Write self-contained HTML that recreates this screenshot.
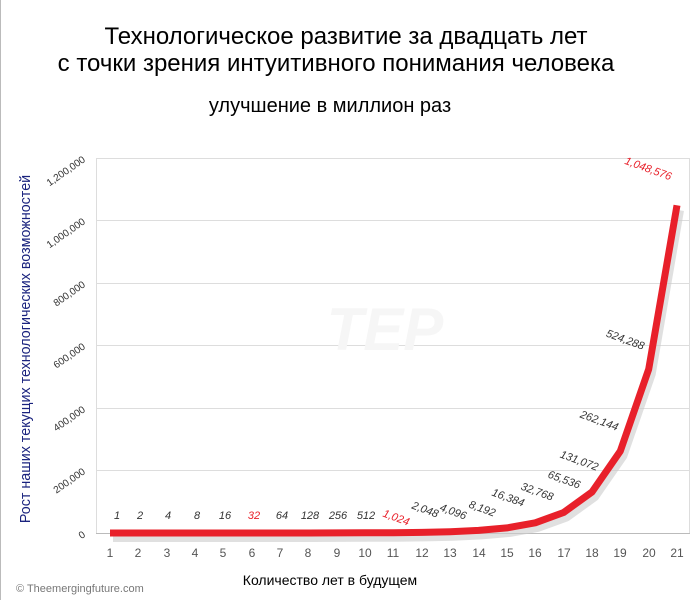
<!DOCTYPE html>
<html><head><meta charset="utf-8"><style>
body{margin:0;background:#fff;}
svg{display:block;font-family:"Liberation Sans","DejaVu Sans",sans-serif;}
</style></head><body>
<svg width="693" height="600" viewBox="0 0 693 600" xmlns="http://www.w3.org/2000/svg">
<rect x="0" y="0" width="693" height="600" fill="#fff"/>
<line x1="0.5" y1="0" x2="0.5" y2="600" stroke="#bbb"/>
<text x="346" y="44" font-size="24" text-anchor="middle" fill="#000">Технологическое развитие за двадцать лет</text>
<text x="336" y="71" font-size="24" text-anchor="middle" fill="#000">с точки зрения интуитивного понимания человека</text>
<text x="330" y="112" font-size="20" text-anchor="middle" fill="#000">улучшение в миллион раз</text>
<g stroke="#ddd" stroke-width="1">
<line x1="96" y1="158.5" x2="690" y2="158.5"/>
<line x1="96" y1="220.5" x2="690" y2="220.5"/>
<line x1="96" y1="283.5" x2="690" y2="283.5"/>
<line x1="96" y1="345.5" x2="690" y2="345.5"/>
<line x1="96" y1="408.5" x2="690" y2="408.5"/>
<line x1="96" y1="470.5" x2="690" y2="470.5"/>
<line x1="96.5" y1="158" x2="96.5" y2="533"/>
<line x1="689.5" y1="158" x2="689.5" y2="533"/>
</g>
<line x1="96" y1="533.5" x2="690" y2="533.5" stroke="#bbb"/>
<text x="385" y="350" font-size="60" font-style="italic" font-weight="bold" fill="#f6f6f6" text-anchor="middle">TEP</text>
<g font-size="10" fill="#333" text-anchor="end">
<text transform="translate(86,161) rotate(-35)">1,200,000</text>
<text transform="translate(86,223) rotate(-35)">1,000,000</text>
<text transform="translate(86,286) rotate(-35)">800,000</text>
<text transform="translate(86,348) rotate(-35)">600,000</text>
<text transform="translate(86,411) rotate(-35)">400,000</text>
<text transform="translate(86,473) rotate(-35)">200,000</text>
<text transform="translate(86,536) rotate(-35)">0</text>
</g>
<text transform="translate(30,349) rotate(-90)" font-size="14.3" fill="#1a237e" text-anchor="middle">Рост наших текущих технологических возможностей</text>
<polyline fill="none" stroke="#ccc" stroke-opacity="0.6" stroke-width="8" stroke-linejoin="round" transform="translate(3,5)" points="110.0,533.0 138.4,533.0 166.7,533.0 195.1,533.0 223.4,533.0 251.8,533.0 280.1,533.0 308.5,533.0 336.8,532.9 365.2,532.8 393.5,532.7 421.9,532.4 450.2,531.7 478.6,530.4 506.9,527.9 535.3,522.8 563.6,512.5 592.0,492.0 620.3,451.1 648.7,369.2 677.0,205.3"/>
<polyline fill="none" stroke="#e8202a" stroke-width="7" stroke-linejoin="round" points="110.0,533.0 138.4,533.0 166.7,533.0 195.1,533.0 223.4,533.0 251.8,533.0 280.1,533.0 308.5,533.0 336.8,532.9 365.2,532.8 393.5,532.7 421.9,532.4 450.2,531.7 478.6,530.4 506.9,527.9 535.3,522.8 563.6,512.5 592.0,492.0 620.3,451.1 648.7,369.2 677.0,205.3"/>
<g font-size="12" fill="#555" text-anchor="middle">
<text x="110" y="557">1</text><text x="138" y="557">2</text><text x="167" y="557">3</text><text x="195" y="557">4</text><text x="223" y="557">5</text><text x="252" y="557">6</text><text x="280" y="557">7</text><text x="308" y="557">8</text><text x="337" y="557">9</text><text x="365" y="557">10</text><text x="393" y="557">11</text><text x="422" y="557">12</text><text x="450" y="557">13</text><text x="479" y="557">14</text><text x="507" y="557">15</text><text x="535" y="557">16</text><text x="564" y="557">17</text><text x="592" y="557">18</text><text x="620" y="557">19</text><text x="649" y="557">20</text><text x="677" y="557">21</text>
</g>
<g font-size="11" font-style="italic" fill="#333" text-anchor="middle">
<text x="117" y="519">1</text><text x="140" y="519">2</text><text x="168" y="519">4</text><text x="197" y="519">8</text><text x="225" y="519">16</text>
<text x="254" y="519" fill="#e8202a">32</text><text x="282" y="519">64</text><text x="310" y="519">128</text><text x="338" y="519">256</text><text x="366" y="519">512</text>
<text transform="translate(395,521) rotate(20)" fill="#e8202a">1,024</text>
<text transform="translate(424,513) rotate(20)">2,048</text>
<text transform="translate(452,515) rotate(20)">4,096</text>
<text transform="translate(481,512) rotate(20)">8,192</text>
<text transform="translate(507,501) rotate(20)">16,384</text>
<text transform="translate(536,495) rotate(20)">32,768</text>
<text transform="translate(563,483) rotate(20)">65,536</text>
<text transform="translate(578,464) rotate(20)">131,072</text>
<text transform="translate(598,424) rotate(20)">262,144</text>
<text transform="translate(624,343) rotate(20)">524,288</text>
<text transform="translate(647,172) rotate(20)" fill="#e8202a">1,048,576</text>
</g>
<text x="330" y="585" font-size="14" text-anchor="middle" fill="#000">Количество лет в будущем</text>
<text x="16" y="592" font-size="11" fill="#777">© Theemergingfuture.com</text>
</svg>
</body></html>
